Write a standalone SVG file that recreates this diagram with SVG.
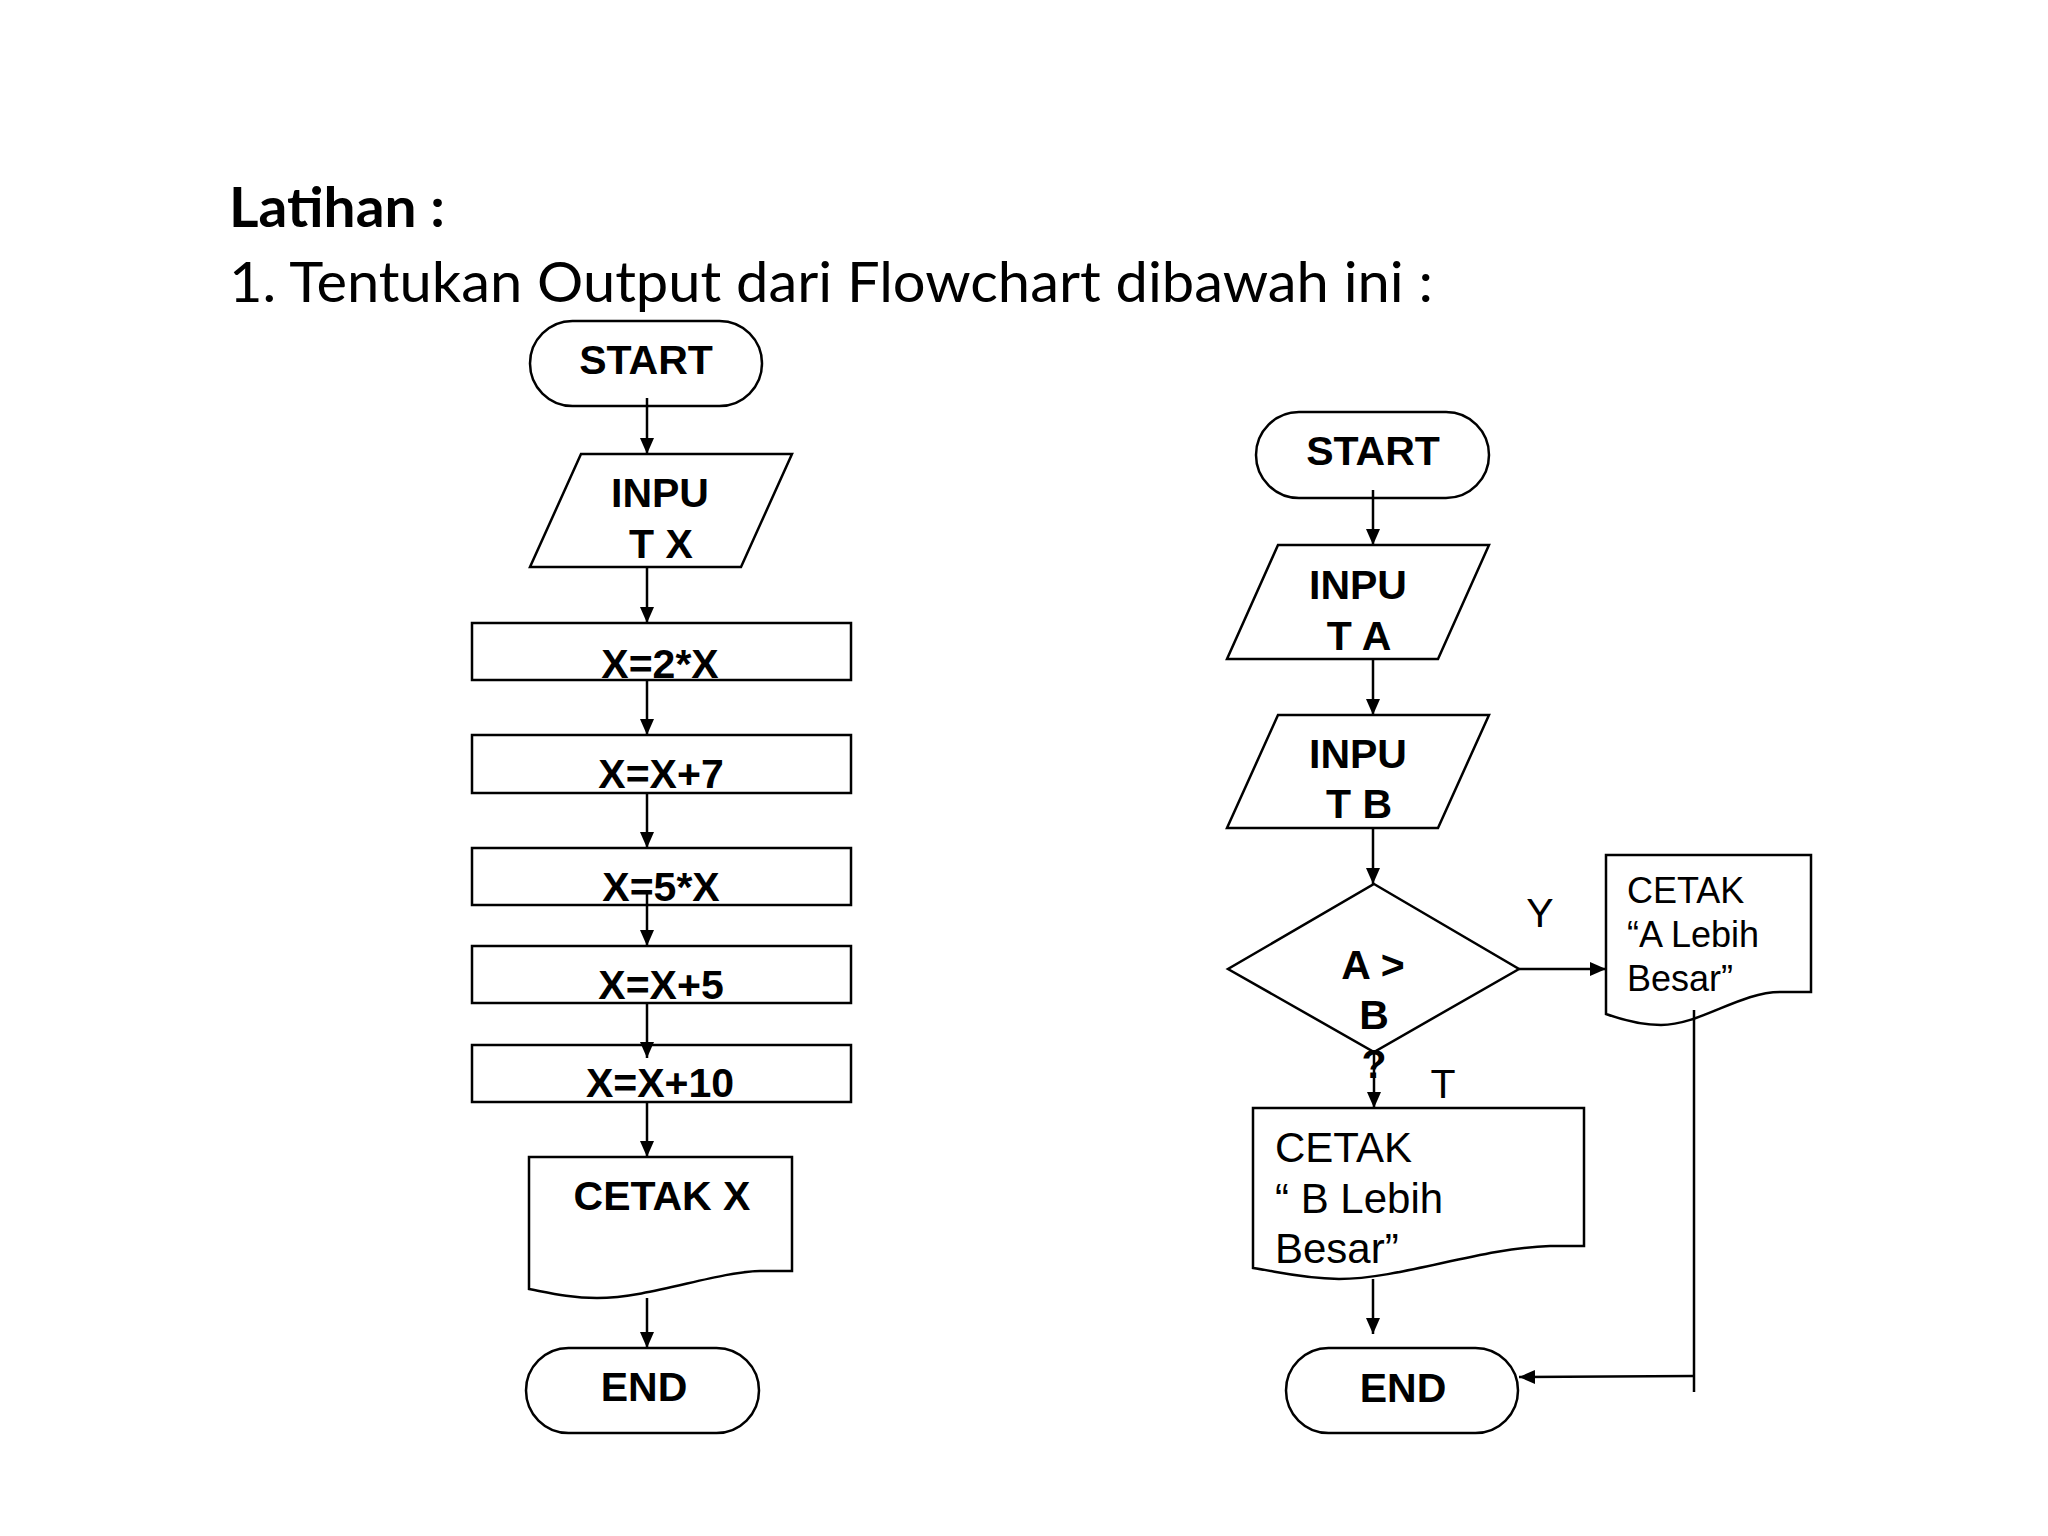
<svg xmlns="http://www.w3.org/2000/svg" width="2048" height="1536" viewBox="0 0 2048 1536">
<style>
.shape{fill:#fff;stroke:#000;stroke-width:2.5}
.b{font-family:"Liberation Sans",Arial,sans-serif;font-weight:bold;font-size:41px;fill:#000}
.r{font-family:"Liberation Sans",Arial,sans-serif;font-size:41px;fill:#000}
.r36{font-family:"Liberation Sans",Arial,sans-serif;font-size:36px;fill:#000}
.r42{font-family:"Liberation Sans",Arial,sans-serif;font-size:42px;fill:#000}
.title{font-family:Lato,"Open Sans",sans-serif;font-size:56px;fill:#000}
.tb{font-weight:bold}
.c{text-anchor:middle}
.conn{fill:none;stroke:#000;stroke-width:2.5}
</style>
<defs>
<marker id="ah" markerUnits="userSpaceOnUse" markerWidth="17" markerHeight="15" refX="16" refY="7" orient="auto">
<path d="M0,0 L16,7 L0,14 z" fill="#000"/>
</marker>
</defs>
<rect width="2048" height="1536" fill="#fff"/>
<g id="title">
<text class="title tb" x="229" y="227" textLength="216" lengthAdjust="spacingAndGlyphs">Latihan :</text>
<text class="title" x="229" y="302" textLength="1204" lengthAdjust="spacingAndGlyphs">1. Tentukan Output dari Flowchart dibawah ini :</text>
</g>
<g id="left-start"><rect class="shape" x="530" y="321" width="232" height="85" rx="42.5"/><text class="b c" x="646" y="374">START</text></g>
<g id="left-input"><path class="shape" d="M581,454 L792,454 L741,567 L530,567 Z"/><text class="b c" x="660" y="507">INPU</text><text class="b c" x="661" y="558">T X</text></g>
<g id="p1"><rect class="shape" x="472" y="623" width="379" height="57"/><text class="b c" x="660" y="678">X=2*X</text></g>
<g id="p2"><rect class="shape" x="472" y="735" width="379" height="58"/><text class="b c" x="661" y="788">X=X+7</text></g>
<g id="p3"><rect class="shape" x="472" y="848" width="379" height="57"/><text class="b c" x="661" y="901">X=5*X</text></g>
<g id="p4"><rect class="shape" x="472" y="946" width="379" height="57"/><text class="b c" x="661" y="999">X=X+5</text></g>
<g id="p5"><rect class="shape" x="472" y="1045" width="379" height="57"/><text class="b c" x="660" y="1097">X=X+10</text></g>
<g id="left-output"><path class="shape" d="M529,1157 H792 V1271 H760 C715,1272 650,1298 597,1298 C570,1298 550,1293 529,1289 Z"/><text class="b c" x="662" y="1210">CETAK X</text></g>
<g id="left-end"><rect class="shape" x="526" y="1348" width="233" height="85" rx="42.5"/><text class="b c" x="644" y="1401">END</text></g>

<g id="right-start"><rect class="shape" x="1256" y="412" width="233" height="86" rx="43"/><text class="b c" x="1373" y="465">START</text></g>
<g id="input-a"><path class="shape" d="M1278,545 L1489,545 L1438,659 L1227,659 Z"/><text class="b c" x="1358" y="599">INPU</text><text class="b c" x="1359" y="650">T A</text></g>
<g id="input-b"><path class="shape" d="M1278,715 L1489,715 L1438,828 L1227,828 Z"/><text class="b c" x="1358" y="768">INPU</text><text class="b c" x="1359" y="818">T B</text></g>
<g id="decision"><path class="shape" d="M1374,884 L1519,969 L1374,1052 L1228,969 Z"/><text class="b c" x="1373" y="979">A &gt;</text><text class="b c" x="1374" y="1029">B</text><text class="b c" x="1374" y="1078">?</text></g>
<g id="out-a"><path class="shape" d="M1606,855 H1811 V992 H1780 C1740,992 1700,1025 1661,1025 C1640,1025 1620,1019 1606,1014 Z"/><text class="r36" x="1627" y="903">CETAK</text><text class="r36" x="1627" y="947">“A Lebih</text><text class="r36" x="1627" y="991">Besar”</text></g>
<g id="out-b"><path class="shape" d="M1253,1108 H1584 V1246 H1550 C1480,1248 1400,1279 1339,1279 C1300,1278 1280,1272 1253,1268 Z"/><text class="r42" x="1275" y="1162">CETAK</text><text class="r42" x="1275" y="1213">“ B Lebih</text><text class="r42" x="1275" y="1263">Besar”</text></g>
<g id="right-end"><rect class="shape" x="1286" y="1348" width="232" height="85" rx="42.5"/><text class="b c" x="1403" y="1402">END</text></g>
<g id="labels"><text class="r c" x="1540" y="927">Y</text><text class="r c" x="1443" y="1098">T</text></g>

<g id="connectors">
<line class="conn" x1="647" y1="398" x2="647" y2="454" marker-end="url(#ah)"/>
<line class="conn" x1="647" y1="567" x2="647" y2="623" marker-end="url(#ah)"/>
<line class="conn" x1="647" y1="680" x2="647" y2="735" marker-end="url(#ah)"/>
<line class="conn" x1="647" y1="793" x2="647" y2="848" marker-end="url(#ah)"/>
<line class="conn" x1="647" y1="893" x2="647" y2="946" marker-end="url(#ah)"/>
<line class="conn" x1="647" y1="1003" x2="647" y2="1058" marker-end="url(#ah)"/>
<line class="conn" x1="647" y1="1102" x2="647" y2="1157" marker-end="url(#ah)"/>
<line class="conn" x1="647" y1="1298" x2="647" y2="1348" marker-end="url(#ah)"/>
<line class="conn" x1="1373" y1="490" x2="1373" y2="545" marker-end="url(#ah)"/>
<line class="conn" x1="1373" y1="659" x2="1373" y2="715" marker-end="url(#ah)"/>
<line class="conn" x1="1373" y1="828" x2="1373" y2="884" marker-end="url(#ah)"/>
<line class="conn" x1="1374" y1="1052" x2="1374" y2="1108" marker-end="url(#ah)"/>
<line class="conn" x1="1519" y1="969" x2="1606" y2="969" marker-end="url(#ah)"/>
<line class="conn" x1="1373" y1="1279" x2="1373" y2="1334" marker-end="url(#ah)"/>
<line class="conn" x1="1694" y1="1010" x2="1694" y2="1392"/>
<line class="conn" x1="1694" y1="1376" x2="1519" y2="1377" marker-end="url(#ah)"/>
</g>
</svg>
